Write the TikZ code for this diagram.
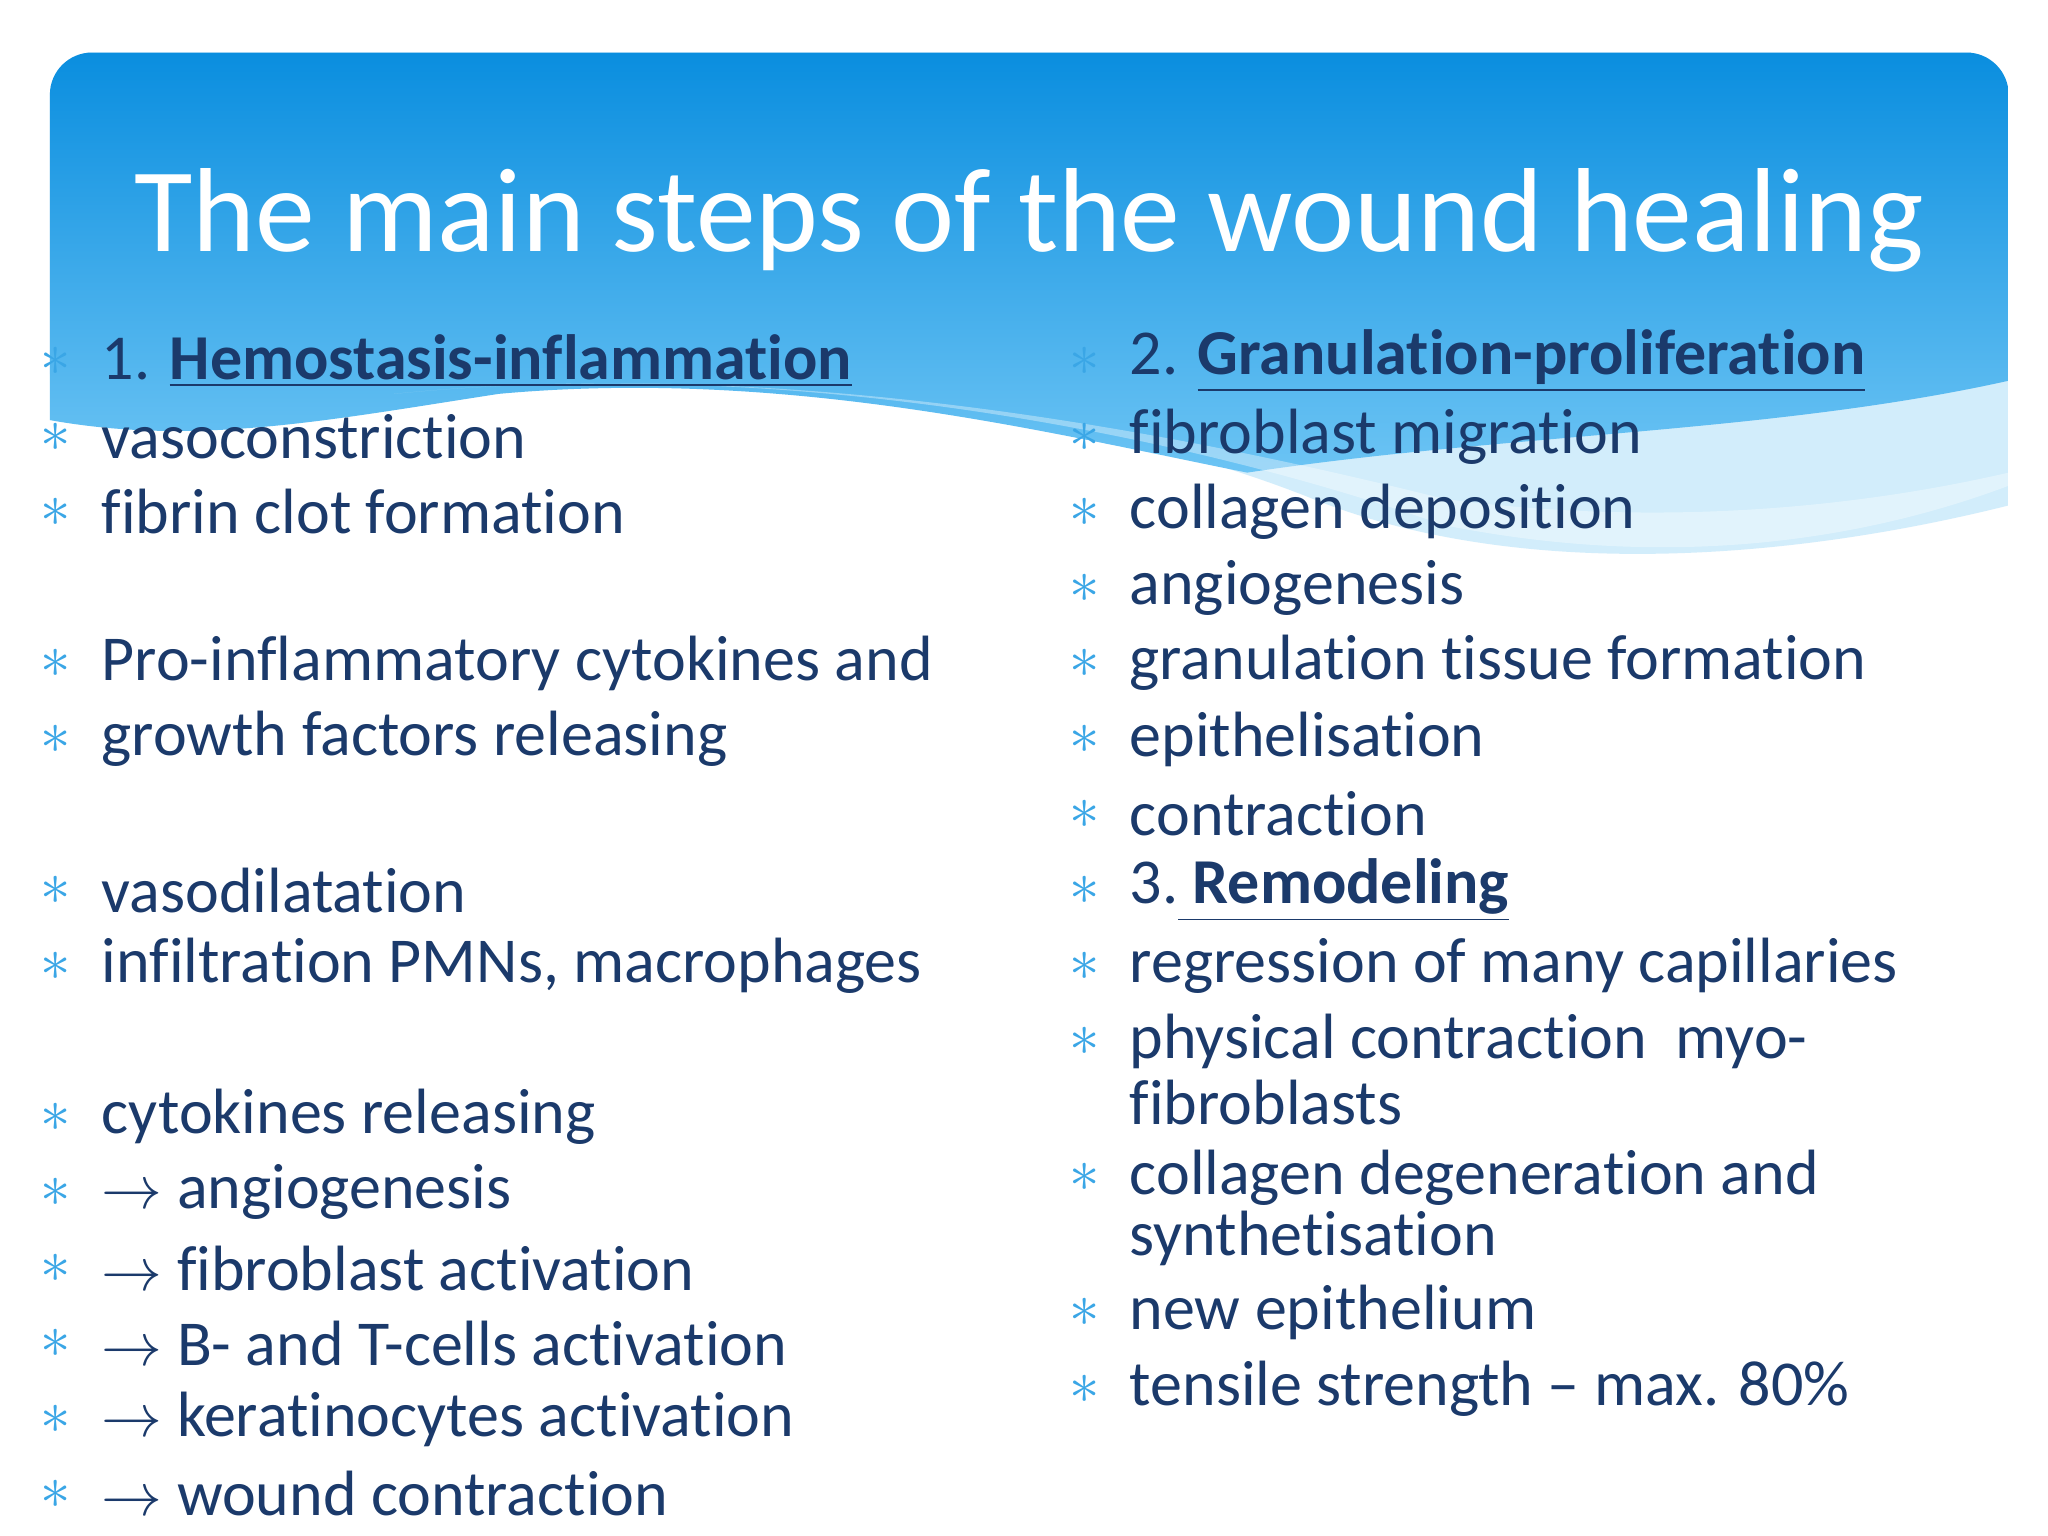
\documentclass[tikz,border=0pt]{standalone}
\usepackage{fontspec}
\setmainfont[Ligatures=NoCommon]{Carlito}
\usetikzlibrary{calc}
\definecolor{navy}{HTML}{1B3A6B}
\definecolor{bul}{HTML}{3AA6E6}
\definecolor{topb}{HTML}{0A8EDF}
\definecolor{botb}{HTML}{6CC4F4}
\begin{document}
\begin{tikzpicture}[x=0.013128cm,y=-0.013128cm,
  txt/.style={anchor=west,inner sep=0pt,text=navy,font=\fontsize{18.2}{20}\selectfont},
  bl/.style={anchor=west,inner sep=0pt,text=bul,font=\fontsize{18}{20}\selectfont}]
\useasboundingbox (0,0) rectangle (1560,1170);
\fill[white] (0,0) rectangle (1560,1170);
% header
\begin{scope}
\clip[rounded corners=12] (38,40) rectangle (1530,700);
\fill[botb!60,opacity=0.5] (38,285) .. controls (500,270) and (800,300) .. (1000,380) .. controls (1150,440) and (1350,430) .. (1530,385) -- (1530,40) -- (38,40) -- cycle;
\shade[top color=topb,bottom color=botb] (38,40) -- (1530,40) -- (1530,290) .. controls (1350,330) and (1150,330) .. (950,360) .. controls (800,330) and (600,280) .. (380,300) .. controls (250,320) and (150,340) .. (38,320) -- cycle;
\fill[white,opacity=0.35] (300,300) .. controls (600,270) and (900,330) .. (1100,400) .. controls (1300,440) and (1450,400) .. (1530,370) -- (1530,360) .. controls (1400,390) and (1250,400) .. (1100,380) .. controls (900,330) and (600,270) .. (300,300) -- cycle;
\end{scope}
\node[anchor=center,text=white,inner sep=0pt,font=\fontsize{34}{36}\selectfont] (title) at (784,168) {The main steps of the wound healing};
% left column
\foreach \y [count=\i] in {275,333,390,505,563,678,736,851,908,966,1023,1081,1138}
  \node[bl] (lb\i) at (30,\y) {$\ast$};
\node[txt] (l1) at (77,275) {1. \underline{\textbf{Hemostasis-inflammation}}};
\node[txt] (l2) at (77,333) {vasoconstriction};
\node[txt] (l3) at (77,390) {fibrin clot formation};
\node[txt] (l4) at (77,505) {Pro-inflammatory cytokines and};
\node[txt] (l5) at (77,563) {growth factors releasing};
\node[txt] (l6) at (77,678) {vasodilatation};
\node[txt] (l7) at (77,736) {infiltration PMNs, macrophages};
\node[txt] (l8) at (77,851) {cytokines releasing};
\node[txt] (l9) at (77,908) {$\rightarrow$ angiogenesis};
\node[txt] (l10) at (77,966) {$\rightarrow$ fibroblast activation};
\node[txt] (l11) at (77,1023) {$\rightarrow$ B- and T-cells activation};
\node[txt] (l12) at (77,1081) {$\rightarrow$ keratinocytes activation};
\node[txt] (l13) at (77,1138) {$\rightarrow$ wound contraction};
% right column
\foreach \y [count=\i] in {275,333,390,448,505,563,620,678,736,793,897,1000,1058}
  \node[bl] (rb\i) at (814,\y) {$\ast$};
\node[txt] (r1) at (860,275) {2. \underline{\textbf{Granulation-proliferation}}};
\node[txt] (r2) at (860,333) {fibroblast migration};
\node[txt] (r3) at (860,390) {collagen deposition};
\node[txt] (r4) at (860,448) {angiogenesis};
\node[txt] (r5) at (860,505) {granulation tissue formation};
\node[txt] (r6) at (860,563) {epithelisation};
\node[txt] (r7) at (860,620) {contraction};
\node[txt] (r8) at (860,678) {3.\underline{ \textbf{Remodeling}}};
\node[txt] (r9) at (860,736) {regression of many capillaries};
\node[txt] (r10) at (860,793) {physical contraction\ \ myo-};
\node[txt] (r10b) at (860,840) {fibroblasts};
\node[txt] (r11) at (860,897) {collagen degeneration and};
\node[txt] (r11b) at (860,943) {synthetisation};
\node[txt] (r12) at (860,1000) {new epithelium};
\node[txt] (r13) at (860,1058) {tensile strength – max. 80\%};
\end{tikzpicture}
\end{document}
